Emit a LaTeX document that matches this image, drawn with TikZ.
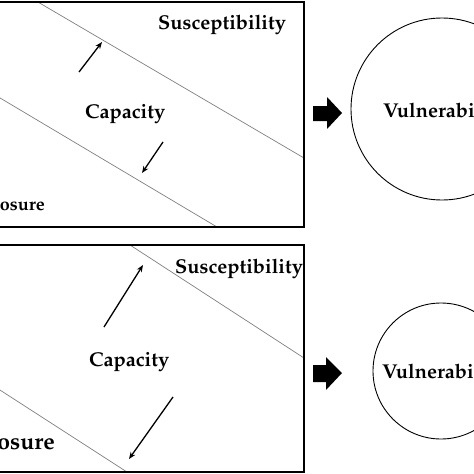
\documentclass[tikz,border=0pt]{standalone}
\usepackage[T1]{fontenc}
\usepackage{mathpazo}
\usetikzlibrary{arrows.meta}
\tikzset{
  boxline/.style={line width=2pt},
  divline/.style={draw=gray, line width=0.7pt},
  flow/.style={line width=1.3pt, -{Stealth[length=7pt,width=5.5pt]}},
  lbl/.style={font=\fontfamily{ppl}\bfseries\fontsize{20}{24}\selectfont, inner sep=0pt},
  blockarrow/.style={fill=black},
  vcircle/.style={draw, line width=0.9pt, circle, inner sep=0pt}
}
\begin{document}
\begin{tikzpicture}[x=1pt,y=-1pt]
\useasboundingbox (0,0) rectangle (474,474);
\clip (0,0) rectangle (474,474);
\fill[white] (0,0) rectangle (474,474);
% ---------- top panel ----------
\coordinate (t1a) at (37,1.5);  \coordinate (t1b) at (304,158);
\coordinate (t2a) at (-10,92);  \coordinate (t2b) at (217,227);
\draw[divline] (t1a) -- (t1b);
\draw[divline] (t2a) -- (t2b);
\draw[boxline] (-10,1.5) rectangle (304,227);
\node[lbl, anchor=base west] (tsus) at (158,29) {Susceptibility};
\node[lbl, anchor=base west] (tcap) at (85,118) {Capacity};
\node[lbl, anchor=base east, font=\fontfamily{ppl}\bfseries\fontsize{18}{22}\selectfont] (texp) at (45,210) {Exposure};
\coordinate (ta1s) at (79,72);   \coordinate (ta1e) at (102,42);
\coordinate (ta2s) at (163,142); \coordinate (ta2e) at (142,173);
\draw[flow] (ta1s) -- (ta1e);
\draw[flow] (ta2s) -- (ta2e);
\fill[blockarrow] (313,106) -- (327,106) -- (327,97) -- (342,113) -- (327,129) -- (327,121) -- (313,121) -- cycle;
\node[vcircle, minimum size=182pt] (tcirc) at (442,109) {};
\node[lbl, anchor=base west] (tvul) at (383,117) {Vulnerability};
% ---------- bottom panel ----------
\coordinate (b1a) at (130,245);  \coordinate (b1b) at (304,358);
\coordinate (b2a) at (-10,383.6); \coordinate (b2b) at (127,472);
\draw[divline] (b1a) -- (b1b);
\draw[divline] (b2a) -- (b2b);
\draw[boxline] (-10,245) rectangle (304,472);
\node[lbl, anchor=base west] (bsus) at (175,273) {Susceptibility};
\node[lbl, anchor=base west] (bcap) at (89,366) {Capacity};
\node[lbl, anchor=base east, font=\fontfamily{ppl}\bfseries\fontsize{23}{27}\selectfont] (bexp) at (55,449) {Exposure};
\coordinate (ba1s) at (104,327); \coordinate (ba1e) at (143,265);
\coordinate (ba2s) at (173,397); \coordinate (ba2e) at (129,459);
\draw[flow] (ba1s) -- (ba1e);
\draw[flow] (ba2s) -- (ba2e);
\fill[blockarrow] (313,365) -- (326,365) -- (326,357) -- (342,373) -- (326,390) -- (326,382) -- (313,382) -- cycle;
\node[vcircle, minimum size=136pt] (bcirc) at (441,371) {};
\node[lbl, anchor=base west] (bvul) at (382,378) {Vulnerability};
\end{tikzpicture}
\end{document}
